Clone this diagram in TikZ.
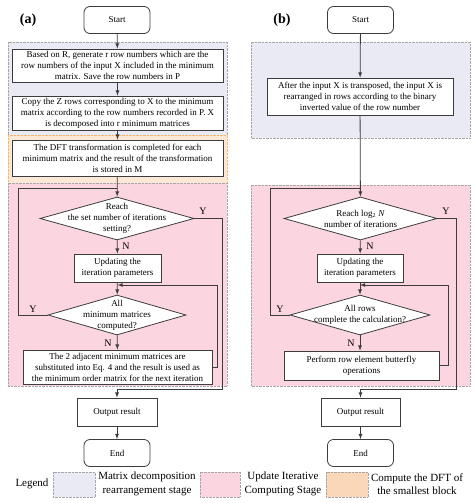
\documentclass[tikz,border=0pt]{standalone}
\usepackage{fontspec}
\setmainfont{Liberation Serif}
\usetikzlibrary{shapes.geometric}

\definecolor{stageblue}{RGB}{234,234,245}
\definecolor{stagepink}{RGB}{251,213,223}
\definecolor{stageorange}{RGB}{252,232,214}
\definecolor{swatchorange}{RGB}{250,215,185}
\definecolor{lineclr}{RGB}{60,60,60}

\tikzset{
  term/.style={draw=lineclr, thick, fill=white, rounded corners=6pt, minimum width=66pt, minimum height=27pt, font=\fontsize{9}{11}\selectfont},
  proc/.style={draw=lineclr, thick, fill=white, align=center, inner sep=1pt, font=\fontsize{9}{11}\selectfont},
  dec/.style={draw=lineclr, thick, fill=white, diamond, inner sep=0pt},
  dectext/.style={align=center, font=\fontsize{9}{11}\selectfont},
  stage/.style={draw=gray!70, densely dotted},
  flow/.style={draw=lineclr, thick},
  yn/.style={font=\fontsize{10}{12}\selectfont}
}

\begin{document}
\begin{tikzpicture}[x=1pt, y=-1pt, >=latex]
    \useasboundingbox (0,0) rectangle (474,503);

    % stage backgrounds
    \fill[stageblue] (8,42) rectangle (227,135);
    \draw[stage] (8,42) rectangle (227,135);
    \fill[stageorange] (8,135) rectangle (227,183);
    \draw[stage, draw=orange!60] (8,135) rectangle (227,183);
    \fill[stagepink] (8,183) rectangle (227,386);
    \draw[stage] (8,183) rectangle (227,386);
    \fill[stageblue] (251,42) rectangle (470,138);
    \draw[stage] (251,42) rectangle (470,138);
    \fill[stagepink] (251,185) rectangle (470,386);
    \draw[stage] (251,185) rectangle (470,386);

    % (a)
    \node[font=\fontsize{14}{16}\bfseries\selectfont] (lbla) at (28,20) {(a)};
    \node[term] (starta) at (117,20) {Start};
    \node[proc, minimum width=211pt, minimum height=33pt] (genrow) at (117.5,65.5)
        {Based on R, generate r row numbers which are the\\row numbers of the input X included in the minimum\\matrix. Save the row numbers in P};
    \node[proc, minimum width=211pt, minimum height=34pt] (copyz) at (117.5,113)
        {Copy the Z rows corresponding to X to the minimum\\matrix according to the row numbers recorded in P. X\\is decomposed into r minimum matrices};
    \node[proc, minimum width=211pt, minimum height=36pt] (dfta) at (117.5,158)
        {The DFT transformation is completed for each\\minimum matrix and the result of the transformation\\is stored in M};
    \node[dec, minimum width=154pt, minimum height=43pt] (itera) at (117,218.5) {};
    \node[dectext] (iterat) at (itera) {Reach\\the set number of iterations\\setting?};
    \node[proc, minimum width=87pt, minimum height=28pt] (upda) at (117.5,268) {Updating the\\iteration parameters};
    \node[dec, minimum width=138pt, minimum height=40pt] (alla) at (117,315) {};
    \node[dectext] (allat) at (alla) {All\\minimum matrices\\computed?};
    \node[proc, minimum width=189pt, minimum height=34pt] (adja) at (117.5,367)
        {The 2 adjacent minimum matrices are\\substituted into Eq. 4 and the result is used as\\the minimum order matrix for the next iteration};
    \node[proc, minimum width=80pt, minimum height=28pt] (outa) at (117,412) {Output result};
    \node[term] (enda) at (117,453) {End};

    \coordinate (ya) at (222,389);
    \coordinate (la) at (217,285);
    \coordinate (ra) at (18,188);

    \draw[flow,->] (starta) -- (genrow);
    \draw[flow,->] (genrow) -- (copyz);
    \draw[flow,->] (copyz) -- (dfta);
    \draw[flow,->] (dfta) -- (itera);
    \draw[flow,->] (itera) -- (upda);
    \draw[flow,->] (upda) -- (alla);
    \draw[flow,->] (alla) -- (adja);
    \draw[flow,->] (itera.east) -| (ya) -| (outa.north);
    \draw[flow,->] (adja.east) -| (la) -- (la -| upda.south);
    \draw[flow] (alla.west) -| (ra) -- (ra -| itera.north);
    \draw[flow,->] (outa) -- (enda);
    \node[yn] (ya1) at (203,211) {Y};
    \node[yn] (na1) at (126,246) {N};
    \node[yn] (ya2) at (33,309) {Y};
    \node[yn] (na2) at (108,343) {N};

    % (b)
    \node[font=\fontsize{14}{16}\bfseries\selectfont] (lblb) at (282,20) {(b)};
    \node[term] (startb) at (360.5,20) {Start};
    \node[proc, minimum width=186pt, minimum height=37pt] (trans) at (360,96.5)
        {After the input X is transposed, the input X is\\rearranged in rows according to the binary\\inverted value of the row number};
    \node[dec, minimum width=153pt, minimum height=43pt] (iterb) at (360.5,218.5) {};
    \node[dectext] (iterbt) at (iterb) {Reach log\textsubscript{2} \textit{N}\\number of iterations};
    \node[proc, minimum width=86pt, minimum height=28pt] (updb) at (360,268) {Updating the\\iteration parameters};
    \node[dec, minimum width=140pt, minimum height=40pt] (allb) at (360,315) {};
    \node[dectext] (allbt) at (allb) {All rows\\complete the calculation?};
    \node[proc, minimum width=155pt, minimum height=29pt] (bfly) at (361.5,365.5)
        {Perform row element butterfly\\operations};
    \node[proc, minimum width=79pt, minimum height=28pt] (outb) at (360.5,412) {Output result};
    \node[term] (endb) at (360.5,453) {End};

    \coordinate (yb) at (456,389);
    \coordinate (lb) at (448,285);
    \coordinate (rb) at (270,188);

    \draw[flow,->] (startb) -- (trans);
    \draw[flow,->] (trans) -- (iterb);
    \draw[flow,->] (iterb) -- (updb);
    \draw[flow,->] (updb) -- (allb);
    \draw[flow,->] (allb) -- (allb |- bfly.north);
    \draw[flow,->] (iterb.east) -| (yb) -| (outb.north);
    \draw[flow,->] (bfly.east) -| (lb) -- (lb -| allb.north);
    \draw[flow] (allb.west) -| (rb) -- (rb -| iterb.north);
    \draw[flow,->] (outb) -- (endb);
    \node[yn] (yb1) at (446,211) {Y};
    \node[yn] (nb1) at (370,246) {N};
    \node[yn] (yb2) at (280,309) {Y};
    \node[yn] (nb2) at (351,343) {N};

    % legend
    \node[font=\fontsize{11}{13}\selectfont] (lgd) at (32,484) {Legend};
    \fill[stageblue] (53,472) rectangle (95,497);
    \draw[stage] (53,472) rectangle (95,497);
    \node[align=center, font=\fontsize{11}{13.5}\selectfont] (lgdblue) at (147,484) {Matrix decomposition\\rearrangement stage};
    \fill[stagepink] (200,472) rectangle (240,497);
    \draw[stage] (200,472) rectangle (240,497);
    \node[align=center, font=\fontsize{11}{13.5}\selectfont] (lgdpink) at (283,484) {Update Iterative\\Computing Stage};
    \fill[swatchorange] (326,472) rectangle (368,497);
    \draw[stage] (326,472) rectangle (368,497);
    \node[align=center, font=\fontsize{11}{13.5}\selectfont] (lgdorange) at (417,484) {Compute the DFT of\\the smallest block};
\end{tikzpicture}
\end{document}
